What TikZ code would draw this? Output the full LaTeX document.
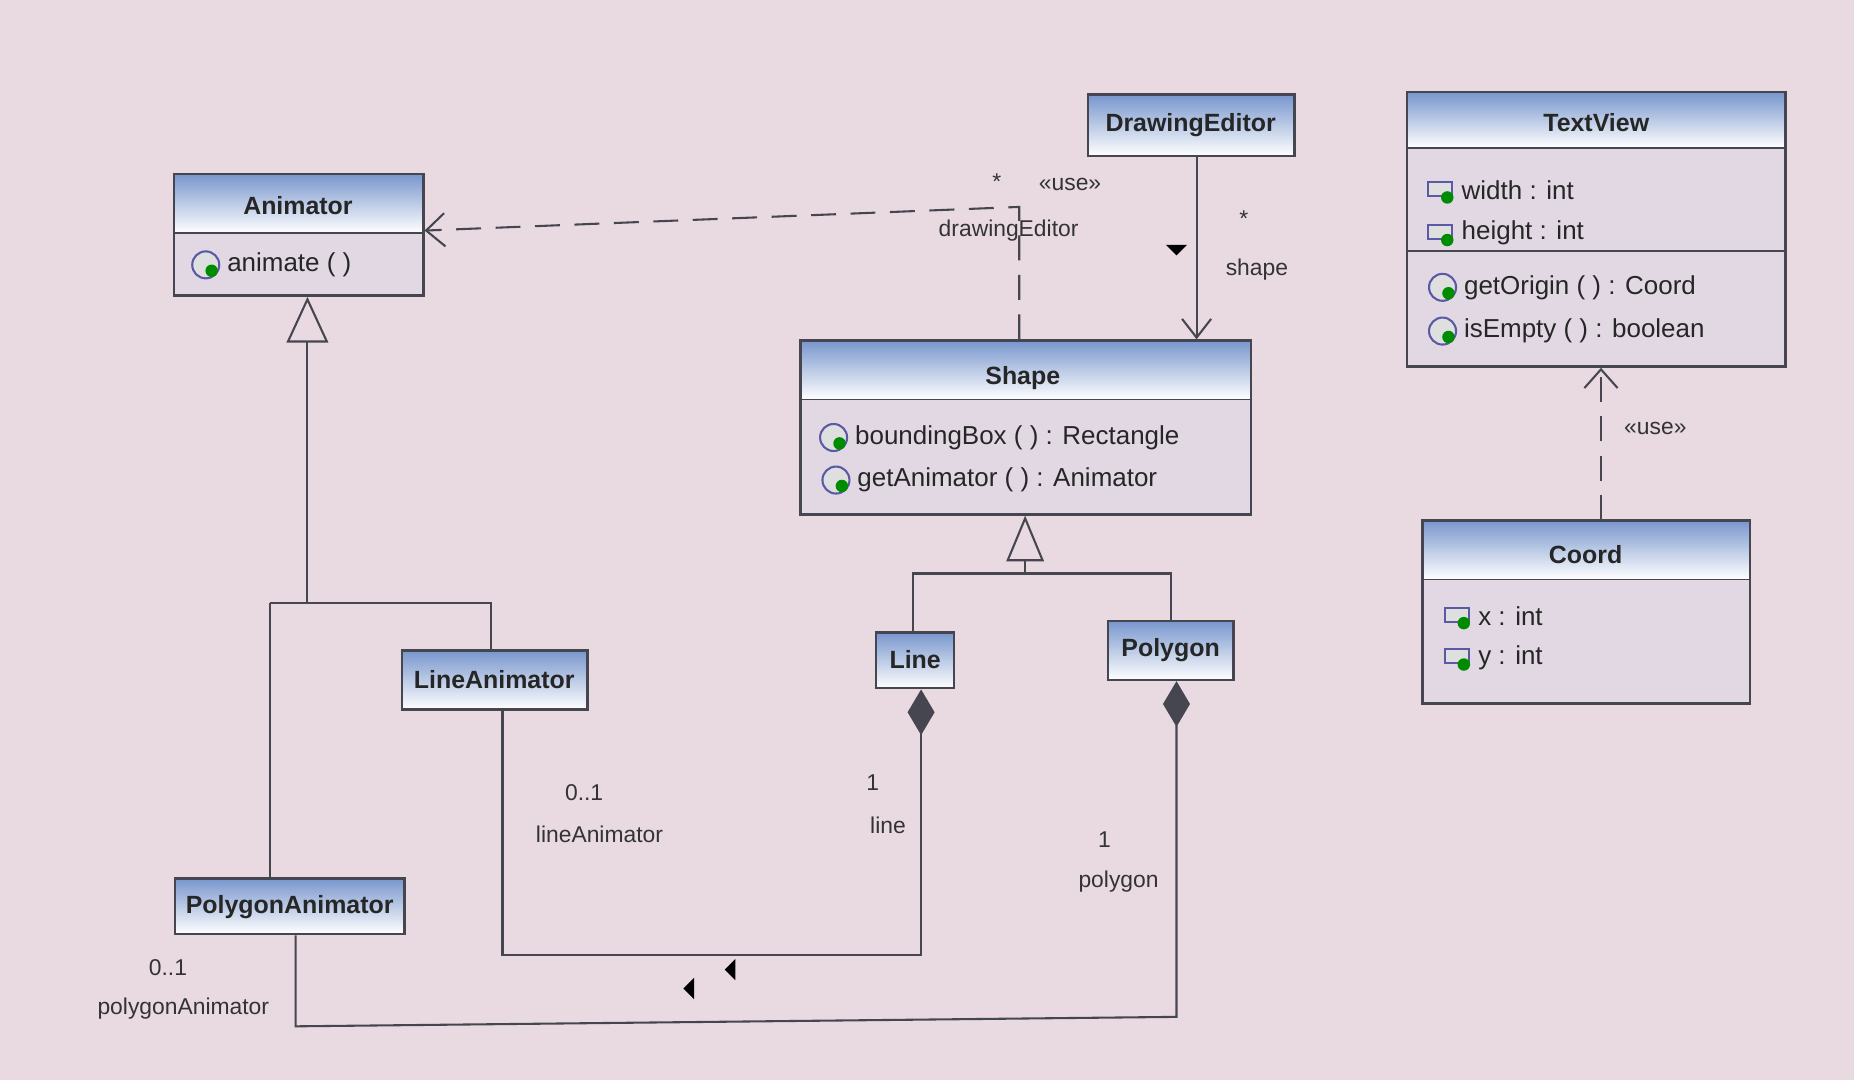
\documentclass[tikz,border=0pt]{standalone}
\usepackage{fontspec}
\setmainfont{Liberation Sans}
\usetikzlibrary{fit,arrows.meta}
\definecolor{bg}{RGB}{232,218,224}
\definecolor{boxf}{RGB}{226,216,228}
\definecolor{hb}{RGB}{120,150,205}
\definecolor{ln}{RGB}{70,70,80}
\tikzset{
  box/.style={draw=ln,line width=1.2pt,fill=boxf,inner sep=0pt},
  ttl/.style={font=\bfseries\fontsize{12}{14}\selectfont,text=black!85},
  mem/.style={font=\fontsize{12.5}{14}\selectfont,anchor=west,text=black!85},
  lbl/.style={font=\fontsize{11}{13}\selectfont,text=black!80},
  conn/.style={draw=ln,line width=1pt},
  dashline/.style={conn,dash pattern=on 12pt off 7pt},
}
\newcommand\meth[3]{%
  \node[circle,draw=gray!70!blue,fill=gray!25,line width=1pt,minimum size=13pt,inner sep=0pt] at (#1,#2) {};
  \fill[green!55!black] (#1+5,#2+5) circle (3pt);
  \node[mem] at (#1+12,#2) {#3};}
\newcommand\fld[3]{%
  \draw[gray!70!blue,fill=gray!25,line width=1pt] (#1-10,#2-7) rectangle (#1+10,#2+5);
  \fill[green!55!black] (#1+6,#2+6) circle (3pt);
  \node[mem] at (#1+12,#2) {#3};}
\begin{document}
\begin{tikzpicture}[x=0.02cm,y=-0.02cm]
\fill[bg] (0,0) rectangle (1568,913);
\useasboundingbox (0,0) rectangle (1568,913);
% classes
\node[box,fit={(147,147)(358,250)}] (animator) {};
\shade[top color=hb,bottom color=white] (147,147) rectangle (358,197);
\draw[ln,line width=1.2pt] (147,147) rectangle (358,250);
\draw[ln,line width=.8pt] (147,197) -- (358,197);
\node[ttl] at (252,174) {Animator};
\meth{174}{224}{animate ( )}

\node[box,fit={(920,80)(1095,132)}] (editor) {};
\shade[top color=hb,bottom color=white] (920,80) rectangle (1095,132);
\draw[ln,line width=1.2pt] (920,80) rectangle (1095,132);
\node[ttl] at (1007,106) {DrawingEditor};

\node[box,fit={(1190,78)(1510,310)}] (textview) {};
\shade[top color=hb,bottom color=white] (1190,78) rectangle (1510,125);
\draw[ln,line width=1.2pt] (1190,78) rectangle (1510,310);
\draw[ln,line width=.8pt] (1190,125) -- (1510,125) (1190,212) -- (1510,212);
\node[ttl] at (1350,104) {TextView};
\fld{1218}{161}{width : int}
\fld{1218}{197}{height : int}
\meth{1220}{243}{getOrigin ( ) :  Coord}
\meth{1220}{280}{isEmpty ( ) :  boolean}

\node[box,fit={(677,288)(1058,435)}] (shape) {};
\shade[top color=hb,bottom color=white] (677,288) rectangle (1058,338);
\draw[ln,line width=1.2pt] (677,288) rectangle (1058,435);
\draw[ln,line width=.8pt] (677,338) -- (1058,338);
\node[ttl] at (865,320) {Shape};
\meth{705}{370}{boundingBox ( ) :  Rectangle}
\meth{707}{406}{getAnimator ( ) :  Animator}

\node[box,fit={(741,535)(807,582)}] (line) {};
\shade[top color=hb,bottom color=white] (741,535) rectangle (807,582);
\draw[ln,line width=1.2pt] (741,535) rectangle (807,582);
\node[ttl] at (774,558) {Line};

\node[box,fit={(937,525)(1043,575)}] (polygon) {};
\shade[top color=hb,bottom color=white] (937,525) rectangle (1043,575);
\draw[ln,line width=1.2pt] (937,525) rectangle (1043,575);
\node[ttl] at (990,550) {Polygon};

\node[box,fit={(340,550)(497,600)}] (lanim) {};
\shade[top color=hb,bottom color=white] (340,550) rectangle (497,600);
\draw[ln,line width=1.2pt] (340,550) rectangle (497,600);
\node[ttl] at (418,575) {LineAnimator};

\node[box,fit={(148,743)(342,790)}] (panim) {};
\shade[top color=hb,bottom color=white] (148,743) rectangle (342,790);
\draw[ln,line width=1.2pt] (148,743) rectangle (342,790);
\node[ttl] at (245,767) {PolygonAnimator};

\node[box,fit={(1203,440)(1480,595)}] (coord) {};
\shade[top color=hb,bottom color=white] (1203,440) rectangle (1480,490);
\draw[ln,line width=1.2pt] (1203,440) rectangle (1480,595);
\draw[ln,line width=.8pt] (1203,490) -- (1480,490);
\node[ttl] at (1341,469) {Coord};
\fld{1232}{521}{x : int}
\fld{1232}{556}{y : int}

% connectors
\coordinate (u1) at (862,175);
\draw[dashline,-{Straight Barb[length=9pt,width=16pt]}] (shape.north -| u1) -- (u1) -- (animator.east |- 0,195);
\node[lbl] at (905,156) {«use»};
\node[lbl] at (843,154) {*};
\node[lbl] at (853,195) {drawingEditor};

\coordinate (e1) at (1012,132);
\draw[conn,-{Straight Barb[length=9pt,width=14pt]}] (e1) -- (shape.north -| e1);
\fill[black] (986,207) -- (1004,207) -- (995,216) -- cycle;
\node[lbl] at (1052,185) {*};
\node[lbl] at (1063,228) {shape};

\coordinate (g1) at (260,510);
\draw[conn,-{Triangle[open,length=22pt,width=20pt]}] (g1) -- (g1 |- animator.south);
\draw[conn] (228,510) -- (415,510) -- (lanim.north -| 415,0);
\draw[conn] (228,510) -- (panim.north -| 228,0);

\coordinate (g2) at (867,485);
\draw[conn,-{Triangle[open,length=22pt,width=18pt]}] (g2) -- (g2 |- shape.south);
\draw[conn] (line.north -| 772,0) -- (772,485) -- (990,485) -- (polygon.north -| 990,0);

\coordinate (c1) at (779,808);
\draw[conn,{Diamond[length=22pt,width=13pt]}-] (line.south -| c1) -- (c1) -- (425,808) -- (lanim.south -| 425,0);
\node[lbl] at (738,662) {1};
\node[lbl] at (751,698) {line};
\node[lbl] at (494,670) {0..1};
\node[lbl] at (507,706) {lineAnimator};
\fill[black] (613,820) -- (622,811) -- (622,829) -- cycle;
\fill[black] (578,836) -- (587,827) -- (587,845) -- cycle;

\coordinate (c2) at (995,860);
\draw[conn,{Diamond[length=22pt,width=13pt]}-] (polygon.south -| c2) -- (c2) -- (250,868) -- (panim.south -| 250,0);
\node[lbl] at (934,710) {1};
\node[lbl] at (946,746) {polygon};
\node[lbl] at (142,818) {0..1};
\node[lbl] at (155,853) {polygonAnimator};

\coordinate (t1) at (1354,440);
\draw[dashline,-{Straight Barb[length=9pt,width=16pt]}] (t1) -- (textview.south -| t1);
\node[lbl] at (1400,362) {«use»};
\end{tikzpicture}
\end{document}
